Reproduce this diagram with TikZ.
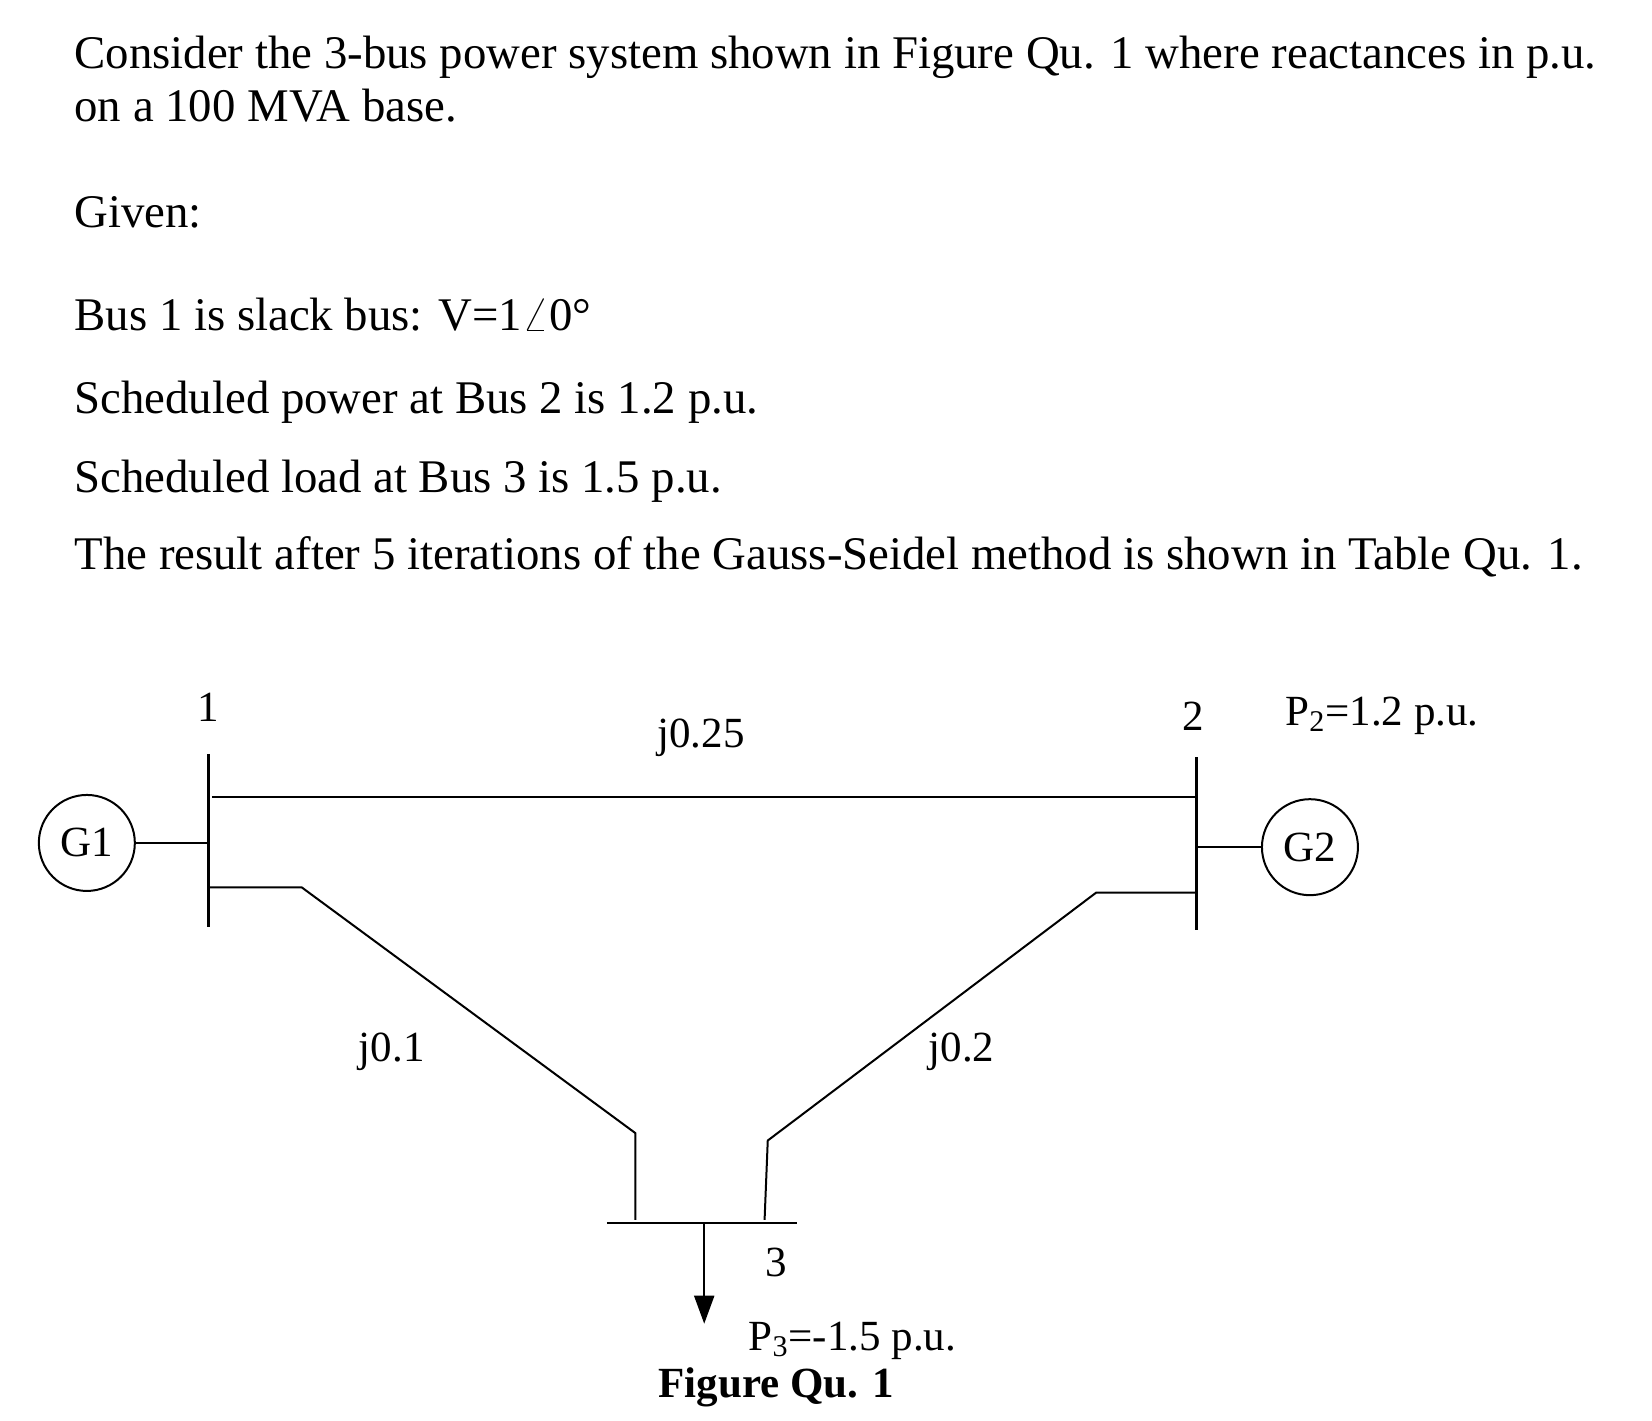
\documentclass[tikz,border=0pt]{standalone}
\usepackage{fontspec}
\setmainfont{Liberation Serif}
\usetikzlibrary{positioning,arrows.meta}
\tikzset{busline/.style={line width=1.2pt},
	wire/.style={line width=1pt},
	gen/.style={draw,circle,line width=1pt,minimum size=48pt,inner sep=0pt,font=\fontsize{21.5}{26}\selectfont},
	lbl/.style={font=\fontsize{21.5}{26}\selectfont,inner sep=0pt},
	txt/.style={anchor=base west,inner sep=0pt,font=\fontsize{23.4}{28}\selectfont}}
\begin{document}
\begin{tikzpicture}[x=0.5295pt,y=-0.5295pt]
	\useasboundingbox (0,0) rectangle (1560,1341);
	% question text
	\node[txt] (t1) at (70,65) {Consider the 3-bus power system shown in Figure Qu. 1 where reactances in p.u.};
	\node[txt] (t2) at (70,115) {on a 100 MVA base.};
	\node[txt] (t3) at (70,215) {Given:};
	\node[txt] (t4) at (70,312) {Bus 1 is slack bus: V=1$\angle$0\textdegree};
	\node[txt] (t5) at (70,390) {Scheduled power at Bus 2 is 1.2 p.u.};
	\node[txt] (t6) at (70,465) {Scheduled load at Bus 3 is 1.5 p.u.};
	\node[txt] (t7) at (70,538) {The result after 5 iterations of the Gauss-Seidel method is shown in Table Qu. 1.};

	% buses
	\coordinate (b1t) at (197,712); \coordinate (b1b) at (197,875);
	\coordinate (b2t) at (1130,715); \coordinate (b2b) at (1130,878);
	\coordinate (b3l) at (573,1155); \coordinate (b3r) at (753,1155);
	\draw[busline] (b1t) -- (b1b);
	\draw[busline] (b2t) -- (b2b);
	\draw[busline] (b3l) -- (b3r);
	\node[lbl] (n1) at (197,668) {1};
	\node[lbl] (n2) at (1127,676) {2};
	\node[lbl] (n3) at (733,1192) {3};

	% generators
	\node[gen] (G1) at (82,796) {G1};
	\node[gen] (G2) at (1237,800) {G2};
	\draw[wire] (G1.east) -- (197,796);
	\draw[wire] (1130,800) -- (G2.west);

	% lines
	\draw[wire] (200,753) -- (1130,753);
	\draw[wire] (197,838) -- (285,838) -- (600,1070) -- (600,1152);
	\draw[wire] (1130,843) -- (1035,843) -- (725,1077) -- (722,1152);
	\coordinate (ld) at (665,1250);
	\draw[wire,-{Triangle[length=14pt,width=10pt]}] (665,1155) -- (ld);

	% labels
	\node[lbl] (x12) at (662,697) {j0.25};
	\node[lbl] (x13) at (370,993) {j0.1};
	\node[lbl] (x23) at (908,993) {j0.2};
	\node[lbl] (p2) at (1305,676) {P\textsubscript{2}=1.2 p.u.};
	\node[lbl] (p3) at (805,1266) {P\textsubscript{3}=-1.5 p.u.};
	\node[lbl,font=\bfseries\fontsize{21.5}{26}\selectfont] (cap) at (733,1310) {Figure Qu. 1};
\end{tikzpicture}
\end{document}
